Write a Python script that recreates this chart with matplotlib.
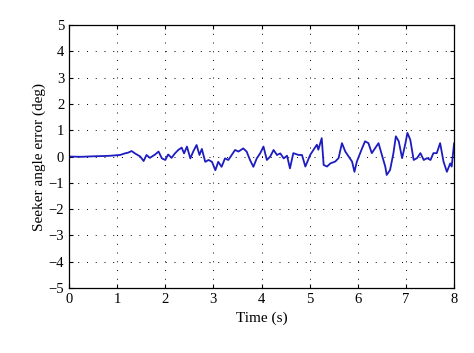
import matplotlib
matplotlib.use("Agg")
import matplotlib.pyplot as plt

# Time (s) and seeker angle error (deg)
time_s = [0.00, 0.02, 0.25, 0.51, 0.71, 0.85, 1.06, 1.16, 1.23, 1.30, 1.37, 1.48, 1.55,
          1.61, 1.68, 1.79, 1.86, 1.93, 2.00, 2.06, 2.13, 2.20, 2.27, 2.34, 2.39,
          2.45, 2.52, 2.58, 2.65, 2.71, 2.76, 2.83, 2.90, 2.97, 3.04, 3.10, 3.17,
          3.24, 3.31, 3.38, 3.45, 3.52, 3.62, 3.69, 3.76, 3.83, 3.90, 3.97, 4.04,
          4.11, 4.18, 4.25, 4.32, 4.39, 4.46, 4.53, 4.59, 4.66, 4.77, 4.84,
          4.91, 5.01, 5.08, 5.15, 5.18, 5.25, 5.29, 5.36, 5.43, 5.53, 5.60, 5.67,
          5.74, 5.81, 5.88, 5.93, 5.98, 6.09, 6.15, 6.22, 6.29, 6.36, 6.43, 6.50,
          6.57, 6.60, 6.67, 6.74, 6.79, 6.85, 6.92, 6.99, 7.03, 7.09, 7.16, 7.23,
          7.30, 7.37, 7.44, 7.51, 7.57, 7.64, 7.71, 7.78, 7.85, 7.92, 7.95, 8.00]
angle_err = [0.00, 0.00, -0.01, 0.01, 0.02, 0.03, 0.06, 0.12, 0.15, 0.21, 0.12, 0.00, -0.17,
             0.06, -0.05, 0.08, 0.19, -0.07, -0.13, 0.08, -0.05, 0.12, 0.25, 0.34, 0.12,
             0.38, -0.07, 0.19, 0.44, 0.06, 0.29, -0.20, -0.13, -0.20, -0.52, -0.20, -0.39,
             -0.07, -0.13, 0.06, 0.25, 0.19, 0.31, 0.19, -0.13, -0.39, -0.07, 0.12, 0.38,
             -0.13, 0.00, 0.25, 0.06, 0.12, -0.07, 0.03, -0.45, 0.13, 0.06, 0.06,
             -0.38, 0.06, 0.26, 0.45, 0.26, 0.70, -0.32, -0.38, -0.26, -0.19, -0.06, 0.51,
             0.19, 0.00, -0.19, -0.58, -0.19, 0.32, 0.58, 0.51, 0.13, 0.32, 0.51, 0.06,
             -0.38, -0.70, -0.51, 0.13, 0.77, 0.58, -0.06, 0.51, 0.90, 0.64, -0.13, -0.06,
             0.13, -0.13, -0.06, -0.13, 0.13, 0.13, 0.51, -0.19, -0.58, -0.26, -0.38, 0.50]

x_ticks = [0, 1, 2, 3, 4, 5, 6, 7, 8]
y_ticks = [-5, -4, -3, -2, -1, 0, 1, 2, 3, 4, 5]

plt.rcParams['font.family'] = ['Liberation Serif', 'DejaVu Serif']

fig = plt.figure(figsize=(4.74, 3.53), dpi=100)
ax = fig.add_axes([0.1456, 0.184, 0.8124, 0.745])
ax.plot(time_s, angle_err, color="#1c1cc0", linewidth=1.3)
ax.set_xlim(0, 8)
ax.set_ylim(-5, 5)
ax.set_xticks(x_ticks)
ax.set_yticks(y_ticks)
ax.set_yticklabels([str(v).replace('-', '\u2212') for v in y_ticks])
ax.grid(True, color="black", linestyle=(0, (1, 8)), linewidth=0.7)
ax.tick_params(direction="in", top=True, right=True, labelsize=10.5, length=3, width=0.8)
for s in ax.spines.values():
    s.set_linewidth(0.9)
ax.set_xlabel("Time (s)", fontsize=11, labelpad=4)
ax.set_ylabel("Seeker angle error (deg)", fontsize=11, labelpad=2)
fig.savefig("out.png", dpi=100)
